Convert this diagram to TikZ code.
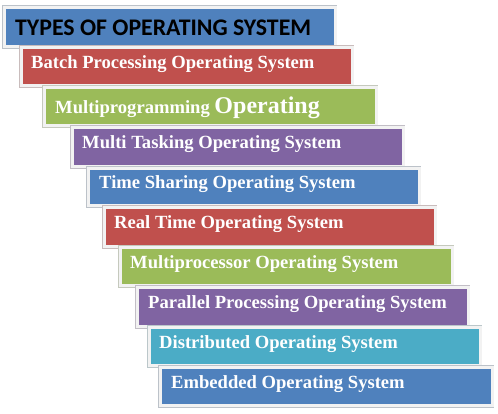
\documentclass[tikz,border=0pt]{standalone}
\usepackage{fontspec}
\setmainfont{Liberation Serif}
\newfontfamily\titlefont{Carlito}
\definecolor{obBlue}{HTML}{4F81BD}
\definecolor{obRed}{HTML}{C0504D}
\definecolor{obGreen}{HTML}{9BBB59}
\definecolor{obPurple}{HTML}{8064A2}
\definecolor{obTeal}{HTML}{4BACC6}
\definecolor{bordergray}{HTML}{F2F2F2}
\newcommand\osrow[6]{%
  \fill[#6!40!black!30!white] (#2-2,#3-2) rectangle (#4+4.5,#5+6);
  \node[fill=#6, draw=bordergray, line width=3pt, inner sep=0pt, anchor=north west,
        minimum width=#4-#2+3, minimum height=#5-#3+3] (#1) at (#2-1.5,#3-1.5) {};
}
\tikzset{
  rowtext/.style={anchor=base west, inner sep=0pt, text=white, font=\bfseries\fontsize{18.6}{20}\selectfont},
  titletext/.style={anchor=base west, inner sep=0pt, text=black, font=\titlefont\bfseries\fontsize{23.8}{26}\selectfont}
}
\begin{document}
\begin{tikzpicture}[x=1pt,y=-1pt]
\fill[white] (0,0) rectangle (498,413);
\useasboundingbox (0,0) rectangle (498,413);
\osrow{b1}{4}{7}{332}{43}{obBlue}
\node[titletext] (t1) at (15,35.5) {TYPES OF OPERATING SYSTEM};
\osrow{b2}{21}{47}{349}{82}{obRed}
\node[rowtext] (t2) at (31,68) {Batch Processing Operating System};
\osrow{b3}{44}{87}{373}{122}{obGreen}
\node[rowtext] (t3) at (55,113) {Multiprogramming {\fontsize{24}{26}\selectfont Operating}};
\osrow{b4}{72}{127}{400}{163}{obPurple}
\node[rowtext] (t4) at (82,148.5) {Multi Tasking Operating System};
\osrow{b5}{88}{168}{416}{202}{obBlue}
\node[rowtext] (t5) at (99,188.5) {Time Sharing Operating System};
\osrow{b6}{104}{207}{432}{243}{obRed}
\node[rowtext] (t6) at (114,228.5) {Real Time Operating System};
\osrow{b7}{120}{247}{449}{282}{obGreen}
\node[rowtext] (t7) at (130,268) {Multiprocessor Operating System};
\osrow{b8}{137}{287}{465}{323}{obPurple}
\node[rowtext] (t8) at (148,308.5) {Parallel Processing Operating System};
\osrow{b9}{149}{327}{477}{362}{obTeal}
\node[rowtext] (t9) at (159,348) {Distributed Operating System};
\osrow{b10}{160}{367}{489}{402}{obBlue}
\node[rowtext] (t10) at (171,388) {Embedded Operating System};
\end{tikzpicture}
\end{document}
